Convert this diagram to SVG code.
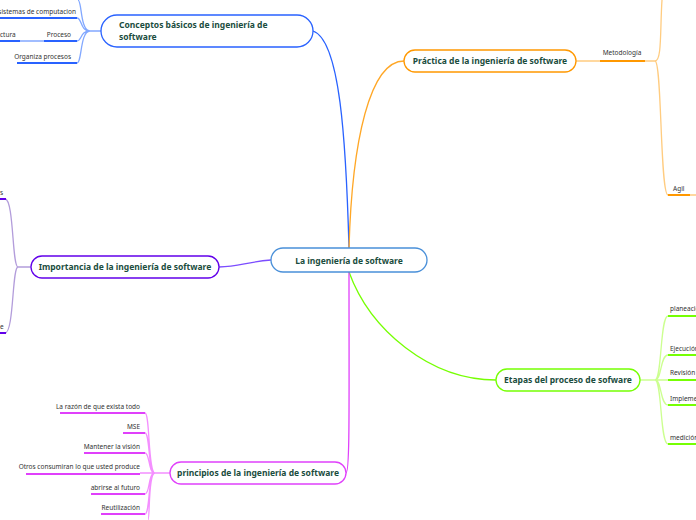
<svg xmlns="http://www.w3.org/2000/svg" width="696" height="520" viewBox="0 0 696 520">
<style>
text{font-family:"Noto Sans","Open Sans",sans-serif;fill:#333}
.n{font-weight:bold;fill:#1b4d3e;font-size:8.5px}
.s{font-size:6.5px}
.c{fill:none;stroke-width:1.3}
.u{fill:none;stroke-width:2.2}
.box{fill:#fff;stroke-width:1.3}
</style>
<rect width="696" height="520" fill="#fff"/>
<g id="connectors">
<path class="c" stroke="#2962ff" d="M349,248 C346,140 340,40 313,31"/>
<path class="c" stroke="#ffa726" d="M349,248 C352,140 370,61 404,61"/>
<path class="c" stroke="#7c4dff" d="M271,260 C245,262 240,267 219,267"/>
<path class="c" stroke="#76ff03" d="M349,272 C370,330 430,380 496,380"/>
<path class="c" stroke="#e040fb" d="M349,272 C349,400 350,473 346,473"/>
<g stroke="#82a8ff" class="c"><path d="M101,31 H90 C80,31 82,18 77,18 M90,31 C80,31 82,41 77,41 M90,31 C80,31 82,63 77,63 M90,31 C80,31 82,0 78,0 M44,41 H20"/></g>
<g stroke="#2962ff" class="u"><path d="M0,18 H77 M44,41 H77 M0,41 H20 M17,63 H77"/></g>
<g stroke="#ffcc80" class="c"><path d="M576,61 H655 C662,61 660,30 662,0 M655,61 C662,61 660,195 668,195 H696"/></g>
<path class="u" stroke="#ff9800" d="M600,61 H645 M668,195 H690"/>
<g stroke="#b39ddb" class="c"><path d="M31,267 H18 C12,267 14,199 5,199 M18,267 C12,267 14,333 5,333"/></g>
<path class="u" stroke="#6200ea" d="M0,199 H6 M0,333 H6"/>
<g stroke="#ccff90" class="c"><path d="M640,380 H655 C662,380 660,316 668,316 M655,380 C662,380 660,355 668,355 M655,380 H668 M655,380 C662,380 660,405 668,405 M655,380 C662,380 660,444 668,444"/></g>
<path class="u" stroke="#76ff03" d="M668,316 H696 M668,355 H696 M668,380 H696 M668,405 H696 M668,444 H696"/>
<g stroke="#f48fff" class="c"><path d="M170,473 H155 C148,473 150,413 145,413 M155,473 C148,473 150,433 145,433 M155,473 C148,473 150,453 145,453 M155,473 H140 M155,473 C148,473 150,494 145,494 M155,473 C148,473 150,514 145,514 M155,473 C148,473 150,520 148,520"/></g>
<path class="u" stroke="#e040fb" d="M60,413 H145 M123,433 H145 M84,453 H145 M26,474 H140 M91,494 H145 M101,514 H145"/>
</g>
<g id="center"><rect class="box" x="271" y="248" width="156" height="24" rx="12" stroke="#4a90d9"/><text class="n" x="349" y="263.5" text-anchor="middle" font-size="9.5">La ingeniería de software</text></g>
<g id="conceptos"><rect class="box" x="101" y="15" width="212" height="32" rx="16" stroke="#2962ff"/><text class="n" x="119" y="28">Conceptos básicos de ingeniería de</text><text class="n" x="119" y="40">software</text></g>
<g id="practica"><rect class="box" x="404" y="50" width="172" height="22" rx="11" stroke="#ff9800"/><text class="n" x="490" y="64" text-anchor="middle">Práctica de la ingeniería de software</text></g>
<g id="importancia"><rect class="box" x="31" y="256" width="188" height="22" rx="11" stroke="#6200ea"/><text class="n" x="125" y="270" text-anchor="middle">Importancia de la ingeniería de software</text></g>
<g id="etapas"><rect class="box" x="496" y="369" width="144" height="22" rx="11" stroke="#76ff03"/><text class="n" x="568" y="383" text-anchor="middle">Etapas del proceso de sofware</text></g>
<g id="principios"><rect class="box" x="170" y="462" width="176" height="22" rx="11" stroke="#e040fb"/><text class="n" x="258" y="476" text-anchor="middle">principios de la ingeniería de software</text></g>
<g id="leaves">
<text class="s" x="76" y="14" text-anchor="end">sistemas de computacion</text>
<text class="s" x="71" y="37" text-anchor="end">Proceso</text>
<text class="s" x="0" y="37">ctura</text>
<text class="s" x="71" y="59" text-anchor="end">Organiza procesos</text>
<text class="s" x="622" y="55" text-anchor="middle">Metodología</text>
<text class="s" x="673" y="191">Agil</text>
<text class="s" x="0" y="195">s</text>
<text class="s" x="0" y="329">e</text>
<text class="s" x="670" y="311">planeación</text>
<text class="s" x="670" y="351">Ejecución</text>
<text class="s" x="670" y="375">Revisión</text>
<text class="s" x="670" y="401">Implementación</text>
<text class="s" x="670" y="440">medición</text>
<text class="s" x="140" y="409" text-anchor="end">La razón de que exista todo</text>
<text class="s" x="140" y="429" text-anchor="end">MSE</text>
<text class="s" x="140" y="449" text-anchor="end">Mantener la visión</text>
<text class="s" x="140" y="469" text-anchor="end">Otros consumiran lo que usted produce</text>
<text class="s" x="140" y="490" text-anchor="end">abrirse al futuro</text>
<text class="s" x="140" y="510" text-anchor="end">Reutilización</text>
</g>
</svg>
